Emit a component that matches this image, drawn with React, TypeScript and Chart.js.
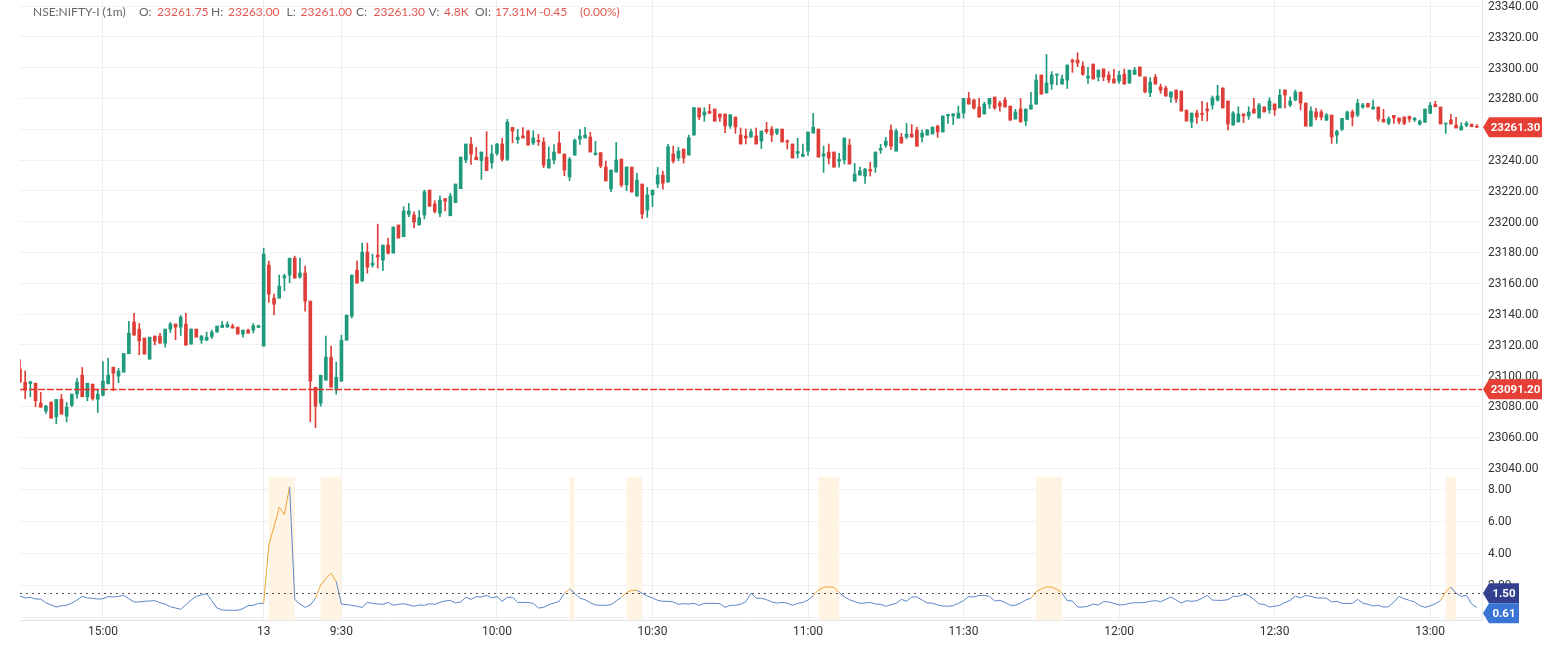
import { useEffect, useRef } from "react";
import { Chart, registerables } from "chart.js";

Chart.register(...registerables);

// 1 minute candles, from 14:44 on the 12th to 13:09 on the 13th
const opens = [
  23104.2,23095.8,23094.9,23095.1,23082.1,23077,23082.8,23073.3,23084.7,23073.7,
  23080.8,23088,23100.3,23086.3,23094.5,23084.7,23087.3,23094.7,23105.5,23099.7,
  23102.3,23114.2,23134.8,23130.2,23124.4,23110.7,23125.7,23125.7,23121.1,23130.2,
  23133.5,23131.5,23133.5,23120.5,23130.2,23123,23123,23125.4,23128.3,23131.3,
  23131.5,23132.2,23131.5,23127,23129.6,23129.6,23131.3,23119.2,23171.8,23150.3,
  23150.3,23163.5,23165.3,23176.3,23164,23166.6,23148.4,23092.5,23082.1,23097.1,
  23112,23090.6,23096.4,23123,23138.7,23168.5,23161.4,23180.2,23171.8,23178.3,
  23175,23184.8,23179.6,23197.8,23190.2,23204.7,23204.3,23197.8,23204.3,23220.5,
  23211.4,23205.4,23214.9,23203.8,23212.3,23221.4,23240,23250.4,23241.9,23239.6,
  23241.9,23238.3,23244.3,23250.4,23240.4,23261.2,23253.2,23255.6,23258.8,23251,
  23252.8,23251.7,23234.8,23240,23251,23243.9,23229,23243.2,23253.6,23254.3,
  23254.9,23243.5,23244.8,23235.5,23221.2,23232.2,23240.6,23223.8,23235.4,23216.6,
  23224.4,23207.5,23217.3,23224.4,23230.2,23225.7,23243.9,23241.3,23247.1,23243.2,
  23256.2,23273.8,23269.2,23271.6,23273.1,23269.9,23269.9,23262.1,23267.9,23256.2,
  23255.6,23254.9,23255.6,23252.3,23259.9,23260.1,23257.5,23260.1,23252.5,23250.4,
  23244.3,23242.4,23245.8,23257.5,23260.1,23242.6,23245.2,23245.2,23239.3,23240,
  23249.7,23226.3,23230.2,23229.6,23233.9,23235.4,23246.5,23249.5,23259.5,23245.8,
  23254.9,23254.9,23256.9,23259.5,23254.9,23256.2,23256.9,23262,23258.2,23268.6,
  23268.6,23267.2,23270.5,23280,23279,23274.4,23269.9,23276.3,23280.9,23277,
  23279,23275,23266.6,23273.1,23265.3,23273.1,23276.3,23295.2,23283.5,23289.3,
  23295.2,23289.3,23291.9,23304.9,23304.9,23301,23293.2,23302.3,23293.9,23299.1,
  23295.2,23292.6,23291.3,23295.8,23290,23295.6,23300.4,23293.9,23283.7,23293.9,
  23287.4,23286.7,23280.9,23285.4,23284.8,23272.4,23264.7,23270.5,23270.3,23273.1,
  23275.7,23279,23286.8,23278.3,23262.7,23264.7,23269.9,23268.6,23273.1,23267.3,
  23274.4,23272.5,23276.4,23273.8,23285.5,23275.7,23279,23284.1,23277,23262,
  23271.2,23271.2,23265.8,23269.2,23256.2,23259.9,23266.4,23271.2,23269.2,23274.4,
  23276.8,23273.1,23274.4,23266.4,23263.8,23269,23267.3,23267.9,23268.3,23266,
  23263.2,23264.5,23270.3,23276.1,23274.4,23263.4,23266,23262.7,23259.5,23262.5,
  23263.2,23261.75,
];

const highs = [
  23110.5,23103.1,23096.4,23095.1,23089.1,23080.8,23083,23084.7,23087.8,23082.6,
  23088,23098.2,23105.3,23095.1,23094.5,23091.2,23109.2,23111.2,23105.5,23104.7,
  23114.4,23135.2,23140.4,23133.9,23124.4,23125,23125.7,23127.4,23130.2,23134.5,
  23133.5,23139.1,23140.4,23130.4,23130.2,23126.1,23128.3,23129.6,23132.2,23135.2,
  23135,23133.5,23131.5,23129.6,23130.2,23133.9,23132.8,23182.8,23174.4,23152.9,
  23165.3,23165.9,23176.3,23177.6,23176.3,23171.1,23148.4,23092.5,23100.3,23125.7,
  23119.2,23108.8,23126.3,23139.3,23165.3,23174.4,23186.1,23186.1,23178.9,23198.4,
  23184.8,23189.1,23196.5,23197.8,23209.7,23211.8,23206.4,23207.3,23220.5,23220.5,
  23213.6,23216.8,23215.1,23218.3,23224.4,23241.9,23250.4,23254.7,23248.2,23245.2,
  23258.4,23249.7,23250.8,23254.1,23266.4,23261.2,23259.9,23261,23259.5,23259,
  23256.7,23254.5,23248.6,23250,23258.4,23243.9,23241.7,23253.6,23259.9,23261.2,
  23258,23252.1,23244.8,23239.3,23233.5,23251.5,23240.6,23235.5,23235.4,23231.3,
  23224.4,23222.2,23220.5,23235.2,23232.8,23250.2,23249,23248.2,23247.1,23256.2,
  23274.2,23273.8,23274,23276.1,23273.1,23269.9,23269.9,23269.4,23267.9,23260.8,
  23260.1,23260.1,23260.8,23258.8,23264.5,23261.8,23260.1,23260.1,23253,23250.4,
  23254.1,23250.4,23258.2,23270.3,23260.1,23249.1,23250.4,23245.2,23244.3,23254.3,
  23253.6,23237.8,23235.4,23234.6,23238.5,23245.2,23250.2,23254.7,23262.7,23260.1,
  23257.3,23263.8,23263.1,23261.2,23259.5,23259.9,23261.4,23262.7,23268.6,23269.9,
  23270.3,23275,23280,23283.9,23279.6,23280,23277.6,23280,23280.9,23278.3,
  23280.7,23275,23272.9,23280,23273.1,23283.9,23295.4,23295.2,23308.6,23297.4,
  23295.8,23295.2,23301.7,23305.6,23309.7,23303.8,23300.2,23302.3,23298.4,23299.1,
  23297.4,23298.9,23297.8,23299.1,23298.4,23300.2,23300.4,23293.9,23293.5,23295.6,
  23289.3,23288,23284.2,23285.4,23284.8,23272.4,23270.5,23272.4,23278.1,23277.2,
  23281.6,23288.5,23286.8,23278.3,23271.4,23274.6,23269.9,23274.6,23280,23276.8,
  23274.6,23280.5,23276.4,23285.9,23285.5,23280.9,23285.5,23284.1,23277,23274.6,
  23273.5,23272.5,23270.3,23269.2,23259.5,23267.1,23271.8,23272.5,23279.4,23276.8,
  23276.8,23279,23274.4,23272.9,23268.1,23269,23267.3,23268.1,23268.6,23267.7,
  23266,23273.1,23277.4,23278.1,23274.4,23263.8,23269.6,23267.7,23264.2,23265.1,
  23263.4,23263,
];

const lows = [
  23095.8,23085,23086.3,23079.8,23079.5,23075.4,23072.4,23068.9,23075,23070,
  23079.8,23085.2,23086.3,23083.7,23084.1,23076.1,23086.9,23094.7,23090.2,23095.4,
  23102.3,23114.2,23126.3,23113.5,23114,23110.7,23120,23121.1,23118.5,23128,
  23123.3,23126.1,23119.8,23120.5,23125,23120.9,23123,23124.1,23128.3,23131.3,
  23131.5,23130.9,23127,23125,23127.6,23127.8,23131.3,23119.2,23147.5,23139.5,
  23150.3,23155.1,23160.3,23163.3,23163.3,23141.9,23070,23066.3,23080.2,23097.1,
  23092.5,23088,23096.4,23123,23137.4,23160.1,23161.4,23166.6,23170.5,23169.8,
  23168.1,23178.9,23179.6,23189.3,23190.2,23203.2,23196,23197.8,23201.7,23209.7,
  23205.6,23203.2,23206.9,23203.8,23212.3,23221.4,23238.3,23237.2,23240.2,23227.4,
  23233.1,23234.6,23243.2,23239.3,23239.6,23251.2,23250.8,23254.3,23249.7,23250,
  23249.5,23235,23234.8,23237.4,23244.5,23229.8,23226.6,23243.2,23250.2,23254.3,
  23245.2,23243.2,23235,23226.4,23219.4,23232.2,23222.5,23220.1,23219.2,23216.6,
  23201.9,23202.8,23209.7,23222,23221,23225.7,23238,23239.6,23238,23243.2,
  23256.2,23266.2,23265.1,23270.3,23265.1,23265.1,23257.7,23260.6,23257.3,23250.4,
  23250.4,23254.9,23250.4,23247.4,23257.3,23251.9,23256.4,23251.7,23247.1,23241.3,
  23241.3,23242,23243,23257.5,23241.9,23232,23237.4,23235.4,23235.4,23237.4,
  23237.4,23226.3,23230.2,23224.8,23229.6,23232,23244.3,23248.2,23246.9,23245.8,
  23251,23253.8,23254.9,23249,23251.7,23256.2,23256.9,23254.7,23258.2,23263.8,
  23262.9,23267.2,23267.2,23276.3,23273.1,23267.9,23269.9,23273.5,23272.9,23271.8,
  23274.4,23265.7,23266.6,23264.7,23262.3,23273.1,23276.3,23282.8,23283.5,23285.9,
  23288.7,23289.3,23286.5,23296.9,23300.6,23295,23289.8,23292.6,23291.3,23291.5,
  23290.2,23290,23289.8,23289.3,23289.8,23295.6,23294.5,23283.5,23281.1,23289.3,
  23283.3,23281.3,23277.4,23277.4,23271.8,23265.3,23261,23263.8,23265.5,23265.3,
  23272.9,23278.1,23273.8,23259.5,23262.7,23264.7,23264.2,23266.4,23270.5,23267.3,
  23271.2,23270.3,23269,23273.8,23273.8,23274.6,23278.5,23272.5,23262,23262,
  23266,23266,23265.8,23250.8,23250.8,23259,23266.4,23262.1,23268.1,23273.5,
  23274.4,23273.1,23265.1,23264.7,23262.9,23263.8,23263.4,23262.9,23264.7,23265.1,
  23262.7,23264.5,23270.3,23274.6,23263.4,23257.3,23263.4,23260.8,23259.5,23261.6,
  23261.6,23261,
];

const closes = [
  23095.8,23090.6,23096,23083.7,23079.5,23080.2,23072.4,23084.5,23075,23079.5,
  23088,23095.8,23086.3,23095.1,23085.2,23088,23096.4,23100.3,23101.6,23103,
  23114.4,23127.6,23126.3,23122.6,23114,23125,23122.4,23121.1,23130.2,23133.5,
  23131.5,23138,23119.8,23130.2,23125,23125.7,23125,23128.3,23132.2,23132.8,
  23133.2,23130.9,23127,23129.6,23127.6,23132.4,23132.4,23178.9,23152.9,23146.4,
  23158.1,23164.8,23176.3,23163.3,23166.6,23148.4,23096.4,23080.2,23100.3,23112,
  23092.5,23099,23123,23139.3,23165.3,23160.1,23180.2,23170.5,23173.1,23177,
  23184.8,23179.6,23196.5,23189.3,23206.9,23206.9,23199.7,23202.5,23219.4,23210.1,
  23206.6,23214,23213.4,23216.6,23224.4,23241.9,23250.4,23243.9,23240.2,23245.2,
  23233.1,23243.9,23250.4,23240.4,23264.7,23258.8,23254.9,23254.3,23249.7,23254.3,
  23251.9,23236.7,23240.4,23245.2,23244.5,23233.5,23240.6,23253,23255.6,23256.2,
  23245.2,23244.5,23236.1,23226.4,23233.5,23240,23223.8,23235.5,23219.2,23227,
  23204.9,23217.3,23220.5,23230.2,23225,23248.6,23239.3,23245.8,23241.3,23254.5,
  23274,23267.9,23271.2,23270.3,23265.3,23267.7,23262.1,23269.4,23261.4,23250.4,
  23254.3,23258.2,23250.4,23258.8,23258.4,23256.2,23260.1,23251.7,23251.7,23241.3,
  23245.6,23243.7,23258.2,23261.4,23241.9,23243.9,23241.3,23235.4,23240.4,23254.3,
  23237.4,23230.9,23233,23234.1,23232.8,23245.2,23247.6,23252.3,23249,23258.8,
  23251,23256.9,23254.9,23249,23257.5,23259.5,23261.4,23258.2,23268.6,23269.6,
  23269.9,23270.5,23280,23276.3,23273.8,23267.9,23276.3,23280,23273.8,23275,
  23274.4,23265.9,23271.2,23264.7,23273.1,23275.7,23291.9,23282.8,23290,23295.2,
  23295.6,23292.6,23301.7,23303.6,23303,23295.6,23294.5,23292.6,23298.4,23293.9,
  23291.9,23290,23295.2,23289.3,23298.4,23298.4,23294.5,23284.2,23290.6,23289.3,
  23285.4,23281.6,23284.2,23279.6,23271.8,23265.3,23270.5,23267.9,23269.6,23272,
  23280.3,23281.6,23273.8,23263.4,23270.5,23269.9,23268.6,23271.2,23270.5,23275.7,
  23271.2,23278.3,23272.5,23282.2,23282.2,23278.3,23284.1,23277,23262,23271.8,
  23267.9,23267.9,23269.2,23254.9,23258.6,23267.1,23271.2,23267.9,23276.8,23275.7,
  23274.4,23274.4,23266.6,23264.7,23266.8,23267.3,23265.1,23263.8,23266.6,23267.1,
  23265.3,23273.1,23275.5,23274.6,23263.4,23263.8,23263.4,23260.8,23261.9,23263.8,
  23261.6,23261.3,
];

// lower pane indicator
const indicator = [
  1.33,1.21,1.25,1.14,1.14,0.91,0.77,0.64,0.73,0.75,
  0.89,1.08,1.31,1.21,1.19,1.14,1.16,1.29,1.27,1.31,
  1.37,1.16,0.96,0.96,1.0,1.02,1.04,0.91,0.83,0.66,
  0.58,0.5,0.79,1.08,1.31,1.39,1.48,1.04,0.58,0.46,
  0.44,0.44,0.44,0.54,0.73,0.75,0.87,0.87,4.52,5.66,
  6.87,6.43,8.16,1.12,0.83,0.62,0.77,1.19,2.02,2.43,
  2.75,2.23,0.83,0.79,0.75,0.69,0.62,0.93,0.87,0.83,
  0.81,0.93,0.75,0.81,0.85,0.77,0.69,0.77,0.75,0.85,
  0.81,0.93,1.02,1.06,0.89,0.96,1.25,1.12,1.29,1.27,
  1.37,1.21,1.29,1.0,1.25,1.25,0.93,0.93,0.93,0.87,
  0.58,0.62,0.79,0.89,1.0,1.5,1.77,1.5,1.19,1.1,
  0.91,0.77,0.75,0.75,0.79,1.02,1.25,1.54,1.69,1.69,
  1.5,1.33,1.21,1.06,1.0,1.0,0.96,0.81,0.85,0.83,
  0.87,0.75,0.87,0.87,0.87,0.85,0.62,0.75,0.75,0.81,
  0.98,1.5,1.19,1.19,1.1,0.96,0.89,0.93,0.89,0.75,
  0.87,0.93,1.08,1.35,1.71,1.87,1.91,1.87,1.54,1.29,
  1.1,0.98,0.87,0.89,0.93,0.83,0.81,0.69,0.79,0.87,
  1.12,1.0,1.27,1.27,1.08,0.89,0.89,0.77,0.71,0.69,
  0.73,0.87,1.04,1.29,1.27,1.37,1.37,1.31,1.02,1.06,
  0.93,0.75,0.75,0.89,1.08,1.19,1.6,1.77,1.91,1.89,
  1.75,1.52,1.04,1.02,0.64,0.64,0.69,0.83,0.77,0.98,
  0.96,0.87,0.77,0.79,0.87,0.91,0.91,0.93,1.0,1.04,
  0.98,1.12,1.27,1.08,0.89,1.04,1.0,1.04,1.19,1.37,
  1.08,1.06,1.06,1.1,1.31,1.31,1.44,1.37,1.12,0.83,
  0.81,0.64,0.69,0.75,0.93,1.06,1.33,1.21,1.37,1.31,
  1.21,1.21,1.19,0.96,1.0,0.87,0.87,0.87,1.12,0.89,
  0.81,0.71,0.75,0.64,0.66,0.96,1.31,1.16,1.06,0.96,
  0.73,0.62,0.71,0.85,1.04,1.6,1.89,1.5,1.31,1.37,
  0.83,0.61,
];

// shaded stretches of the lower pane, as candle indexes
const bandRanges = [[48, 53], [58, 62], [106, 107], [117, 120], [154, 158], [196, 201], [275, 277]];

const timeTicks: Record<number, string> = {
  16: "15:00", 47: "13", 62: "9:30", 92: "10:00", 122: "10:30",
  152: "11:00", 182: "11:30", 212: "12:00", 242: "12:30", 272: "13:00",
};

const lastPrice = 23261.3;
const refPrice = 23091.2;
const indicatorLevel = 1.5;
const indicatorLast = 0.61;

const headerItems: [string, number, string][] = [
  ["NSE:NIFTY-I (1m)", 33, "#666"],
  ["O:", 139, "#666"], ["23261.75", 157, "#e2574f"],
  ["H:", 211, "#666"], ["23263.00", 228, "#e2574f"],
  ["L:", 286.5, "#666"], ["23261.00", 300.5, "#e2574f"],
  ["C:", 356, "#666"], ["23261.30", 373.5, "#e2574f"],
  ["V:", 428.5, "#666"], ["4.8K", 444, "#e2574f"],
  ["OI:", 475, "#666"], ["17.31M", 495, "#e2574f"],
  ["-0.45", 539, "#e2574f"], ["(0.00%)", 580, "#e2574f"],
];

const GREEN = "#1f9a7c";
const RED = "#dd3f38";
const GRID = "#f0f1f4";
const AXIS_FONT = { family: "Roboto", size: 12 };
const TEXT = "#333";

// one extra empty slot so the last candle sits just inside the price axis
const slots = [...opens.map((_, i) => String(i)), ""];

function badge(ctx: CanvasRenderingContext2D, text: string, tipY: number, boxY: number, right: number, color: string) {
  const tip = 1483;
  const left = 1489;
  ctx.save();
  ctx.fillStyle = color;
  ctx.beginPath();
  ctx.moveTo(tip, tipY);
  ctx.lineTo(left, boxY - 10);
  ctx.lineTo(right, boxY - 10);
  ctx.lineTo(right, boxY + 10);
  ctx.lineTo(left, boxY + 10);
  ctx.closePath();
  ctx.fill();
  ctx.fillStyle = "#fff";
  ctx.font = "bold 11.5px Roboto";
  ctx.textAlign = "center";
  ctx.textBaseline = "middle";
  ctx.fillText(text, (left + right) / 2, boxY + 0.5);
  ctx.restore();
}

function dashedLine(chart: any, y: number, color: string, dash: number[], width = 1) {
  const { ctx, chartArea } = chart;
  ctx.save();
  ctx.strokeStyle = color;
  ctx.lineWidth = width;
  ctx.setLineDash(dash);
  ctx.beginPath();
  ctx.moveTo(chartArea.left, Math.round(y) + 0.5);
  ctx.lineTo(chartArea.right, Math.round(y) + 0.5);
  ctx.stroke();
  ctx.restore();
}

const pricePlugin = {
  id: "priceMarks",
  afterDatasetsDraw(chart: any) {
    dashedLine(chart, chart.scales.y.getPixelForValue(refPrice), "#e8332a", [7, 2], 1.5);
  },
  afterDraw(chart: any) {
    const y = chart.scales.y;
    badge(chart.ctx, lastPrice.toFixed(2), y.getPixelForValue(lastPrice), y.getPixelForValue(lastPrice), 1542, "#e53f36");
    badge(chart.ctx, refPrice.toFixed(2), y.getPixelForValue(refPrice), y.getPixelForValue(refPrice), 1542, "#e53f36");
  },
};

const indicatorPlugin = {
  id: "indicatorMarks",
  beforeDatasetsDraw(chart: any) {
    const { ctx, chartArea, scales } = chart;
    ctx.save();
    ctx.fillStyle = "#fff3e3";
    for (const [from, to] of bandRanges) {
      const x0 = scales.x.getPixelForValue(from);
      const x1 = scales.x.getPixelForValue(to);
      ctx.fillRect(x0, chartArea.top, x1 - x0, chartArea.bottom - chartArea.top);
    }
    ctx.restore();
  },
  afterDraw(chart: any) {
    const y = chart.scales.y;
    const levelY = y.getPixelForValue(indicatorLevel);
    dashedLine(chart, levelY, "#555", [2, 4]);
    badge(chart.ctx, indicatorLevel.toFixed(2), levelY, levelY, 1519, "#32408f");
    badge(chart.ctx, indicatorLast.toFixed(2), levelY + 20, levelY + 20, 1519, "#3a74d4");
  },
};

const xAxis = (showLabels: boolean) => ({
  type: "category" as const,
  labels: slots,
  offset: false,
  grid: { color: "#ebedf0", drawTicks: false, offset: false },
  border: { display: showLabels, color: "#e3e5e9" },
  ticks: {
    display: showLabels,
    autoSkip: false,
    maxRotation: 0,
    padding: 4,
    color: TEXT,
    font: AXIS_FONT,
    callback: (value: any) => timeTicks[value] ?? null,
  },
});

const yAxis = (min: number, max: number, stepSize: number) => ({
  position: "right" as const,
  min,
  max,
  afterFit: (scale: any) => {
    scale.width = 67;
    scale.paddingTop = 0;
    scale.paddingBottom = 0;
  },
  grid: { color: GRID, drawTicks: false },
  border: { color: "#e3e5e9" },
  ticks: {
    stepSize,
    includeBounds: false,
    autoSkip: false,
    padding: 6,
    labelOffset: 1,
    color: TEXT,
    font: AXIS_FONT,
    callback: (value: any) => Number(value).toFixed(2),
  },
});

export default function App() {
  const priceRef = useRef<HTMLCanvasElement>(null);
  const indicatorRef = useRef<HTMLCanvasElement>(null);

  useEffect(() => {
    const colors = opens.map((o, i) => (closes[i] < o ? RED : GREEN));
    const priceChart = new Chart(priceRef.current!, {
      type: "bar",
      data: {
        datasets: [
          {
            data: lows.map((l, i) => [l, highs[i]]),
            backgroundColor: colors,
            barThickness: 1,
            grouped: false,
            order: 2,
          },
          {
            data: opens.map((o, i) => [o, closes[i]]),
            backgroundColor: colors,
            barThickness: 3,
            minBarLength: 1,
            grouped: false,
            order: 1,
          },
        ],
      } as any,
      options: {
        responsive: false,
        animation: false,
        layout: { padding: { left: 20, right: 0, top: 0, bottom: 0 } },
        plugins: { legend: { display: false }, tooltip: { enabled: false } },
        scales: {
          x: xAxis(false),
          y: yAxis(23034.2, 23343.9, 20),
        },
      } as any,
      plugins: [pricePlugin],
    });

    const indicatorChart = new Chart(indicatorRef.current!, {
      type: "line",
      data: {
        datasets: [
          {
            data: indicator,
            borderColor: "#5a86c8",
            borderWidth: 1,
            pointRadius: 0,
            tension: 0,
            segment: {
              borderColor: (ctx: any) => (ctx.p1.parsed.y > indicatorLevel ? "#f0a435" : "#5a86c8"),
            },
          },
        ],
      } as any,
      options: {
        responsive: false,
        animation: false,
        layout: { padding: { left: 20, right: 0, top: 0, bottom: 0 } },
        plugins: { legend: { display: false }, tooltip: { enabled: false } },
        scales: {
          x: {
            ...xAxis(true),
            afterFit: (scale: any) => {
              scale.height = 33.7;
            },
          },
          y: yAxis(-0.1875, 8.77, 2),
        },
      } as any,
      plugins: [indicatorPlugin],
    });

    return () => {
      priceChart.destroy();
      indicatorChart.destroy();
    };
  }, []);

  return (
    <div style={{ position: "absolute", left: 0, top: 0, width: 1549, height: 654, background: "#fff", overflow: "hidden" }}>
      <canvas ref={priceRef} width={1549} height={477} style={{ position: "absolute", left: 0, top: 0 }} />
      <canvas ref={indicatorRef} width={1549} height={177} style={{ position: "absolute", left: 0, top: 477 }} />
      {headerItems.map(([text, left, color]) => (
        <span
          key={text + left}
          style={{
            position: "absolute",
            left,
            top: 4,
            color,
            font: "12px Lato",
            lineHeight: "16px",
            whiteSpace: "nowrap",
          }}
        >
          {text}
        </span>
      ))}
    </div>
  );
}
